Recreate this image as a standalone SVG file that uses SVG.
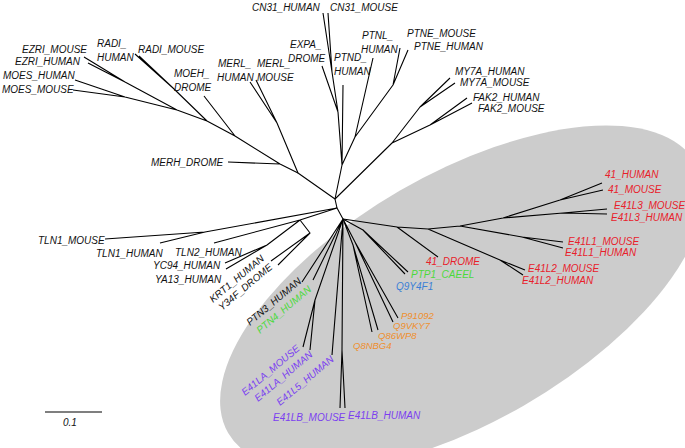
<svg xmlns="http://www.w3.org/2000/svg" width="685" height="448" viewBox="0 0 685 448">
<style>
text{font-family:"Liberation Sans",Arial,sans-serif;font-style:italic;font-size:10px;fill:#111}
.r{fill:#e8202a}.g{fill:#4cd93c}.b{fill:#3a7fd6}.o{fill:#ef8f2c;font-size:9.5px}.p{fill:#7b3ff0}
#edges path{fill:none;stroke:#000;stroke-width:1.1;stroke-linejoin:round}
</style>
<rect width="685" height="448" fill="#fff"/>
<ellipse cx="462" cy="298" rx="270" ry="124" transform="rotate(-30 462 298)" fill="#cccccc"/>
<g id="edges">
<path d="M335,199 L337,208 L343,219"/>
<path d="M335,199 L298,173 L277,123 L250,82 M277,123 L256,80"/>
<path d="M298,173 L280,164 L228,162 M280,164 L235,136 L204,96 M235,136 L207,121 L173,88 L135,54 M173,88 L139,56 M207,121 L177,110 L125,82 L84,57 M125,82 L88,63 M177,110 L125,97 L75,80 M125,97 L73,90"/>
<path d="M335,199 L342,165 L338,112 L332,72 L323,13 M332,72 L328,13 M338,112 L322,66 M342,165 L343,85 M342,165 L355,137 L373,58 M355,137 L393,85 L400,48 M393,85 L408,50"/>
<path d="M335,199 L392,143 L430,125 L467,98 M430,125 L472,103 M392,143 L420,107 L450,78 M420,107 L455,83"/>
<path d="M337,208 L205,232 L105,239 M205,232 L160,243 M337,208 L300,220 L214,243 M300,220 L267,245 L225,263 M267,245 L226,269 M300,220 L310,233 L271,261 M310,233 L278,265"/>
<path d="M343,219 L397,227 L438,257 M397,227 L428,229 L500,260 L525,270 M500,260 L523,275 M428,229 L460,226 L522,237 L563,242 M522,237 L563,248 M460,226 L503,218 L563,213 L607,209 M563,213 L607,214 M503,218 L560,200 L602,183 M560,200 L603,190"/>
<path d="M343,219 L363,230 L408,272 M363,230 L405,274 M343,219 L355,242 L398,318 M355,242 L393,322 M343,219 L353,245 L378,330 M353,245 L372,332"/>
<path d="M343,219 L342,350 L340,408 M342,350 L345,408 M343,219 L332,355 M343,219 L315,300 L303,347 M315,300 L310,350 M343,219 L302,282 M343,219 L313,280"/>
<path d="M45,412 L102,412"/>
</g>
<g id="labels">
<text x="252" y="11">CN31_HUMAN</text><text x="330" y="11">CN31_MOUSE</text>
<text x="22" y="53">EZRI_MOUSE</text><text x="15" y="65">EZRI_HUMAN</text>
<text x="3" y="79">MOES_HUMAN</text><text x="2" y="93">MOES_MOUSE</text>
<text x="97" y="47">RADI_</text><text x="97" y="61">HUMAN</text><text x="138" y="53">RADI_MOUSE</text>
<text x="290" y="48">EXPA_</text><text x="288" y="62">DROME</text>
<text x="362" y="39">PTNL_</text><text x="361" y="53">HUMAN</text>
<text x="407" y="37">PTNE_MOUSE</text><text x="414" y="50">PTNE_HUMAN</text>
<text x="334" y="61">PTND_</text><text x="334" y="75">HUMAN</text>
<text x="174" y="77">MOEH_</text><text x="174" y="91">DROME</text>
<text x="218" y="67">MERL_</text><text x="217" y="81">HUMAN</text>
<text x="257" y="67">MERL_</text><text x="257" y="81">MOUSE</text>
<text x="151" y="166">MERH_DROME</text>
<text x="455" y="75">MY7A_HUMAN</text><text x="460" y="86">MY7A_MOUSE</text>
<text x="473" y="101">FAK2_HUMAN</text><text x="478" y="112">FAK2_MOUSE</text>
<text x="38" y="244">TLN1_MOUSE</text><text x="96" y="257">TLN1_HUMAN</text>
<text x="175" y="256">TLN2_HUMAN</text><text x="153" y="269">YC94_HUMAN</text>
<text x="155" y="283">YA13_HUMAN</text>
<text transform="translate(213,303) rotate(-40)">KRT1_HUMAN</text>
<text transform="translate(222,311) rotate(-40)">Y34F_DROME</text>
<text transform="translate(250,326) rotate(-40)">PTN3_HUMAN</text>
<text class="g" transform="translate(260,334) rotate(-40)">PTN4_HUMAN</text>
<text class="p" transform="translate(245,396) rotate(-40)">E41LA_MOUSE</text>
<text class="p" transform="translate(258,402) rotate(-40)">E41LA_HUMAN</text>
<text class="p" transform="translate(280,406) rotate(-40)">E41L5_HUMAN</text>
<text class="p" x="273" y="421">E41LB_MOUSE</text><text class="p" x="348" y="419">E41LB_HUMAN</text>
<text class="r" x="605" y="178">41_HUMAN</text><text class="r" x="608" y="193">41_MOUSE</text>
<text class="r" x="614" y="209">E41L3_MOUSE</text><text class="r" x="611" y="221">E41L3_HUMAN</text>
<text class="r" x="568" y="245">E41L1_MOUSE</text><text class="r" x="565" y="256">E41L1_HUMAN</text>
<text class="r" x="528" y="272">E41L2_MOUSE</text><text class="r" x="522" y="284">E41L2_HUMAN</text>
<text class="r" x="426" y="265">41_DROME</text>
<text class="g" x="411" y="278">PTP1_CAEEL</text>
<text class="b" x="396" y="290">Q9Y4F1</text>
<text class="o" x="401" y="319">P91092</text><text class="o" x="393" y="329">Q9VKY7</text>
<text class="o" x="378" y="339">Q86WP8</text><text class="o" x="353" y="349">Q8NBG4</text>
<text x="63" y="426">0.1</text>
</g>
</svg>
